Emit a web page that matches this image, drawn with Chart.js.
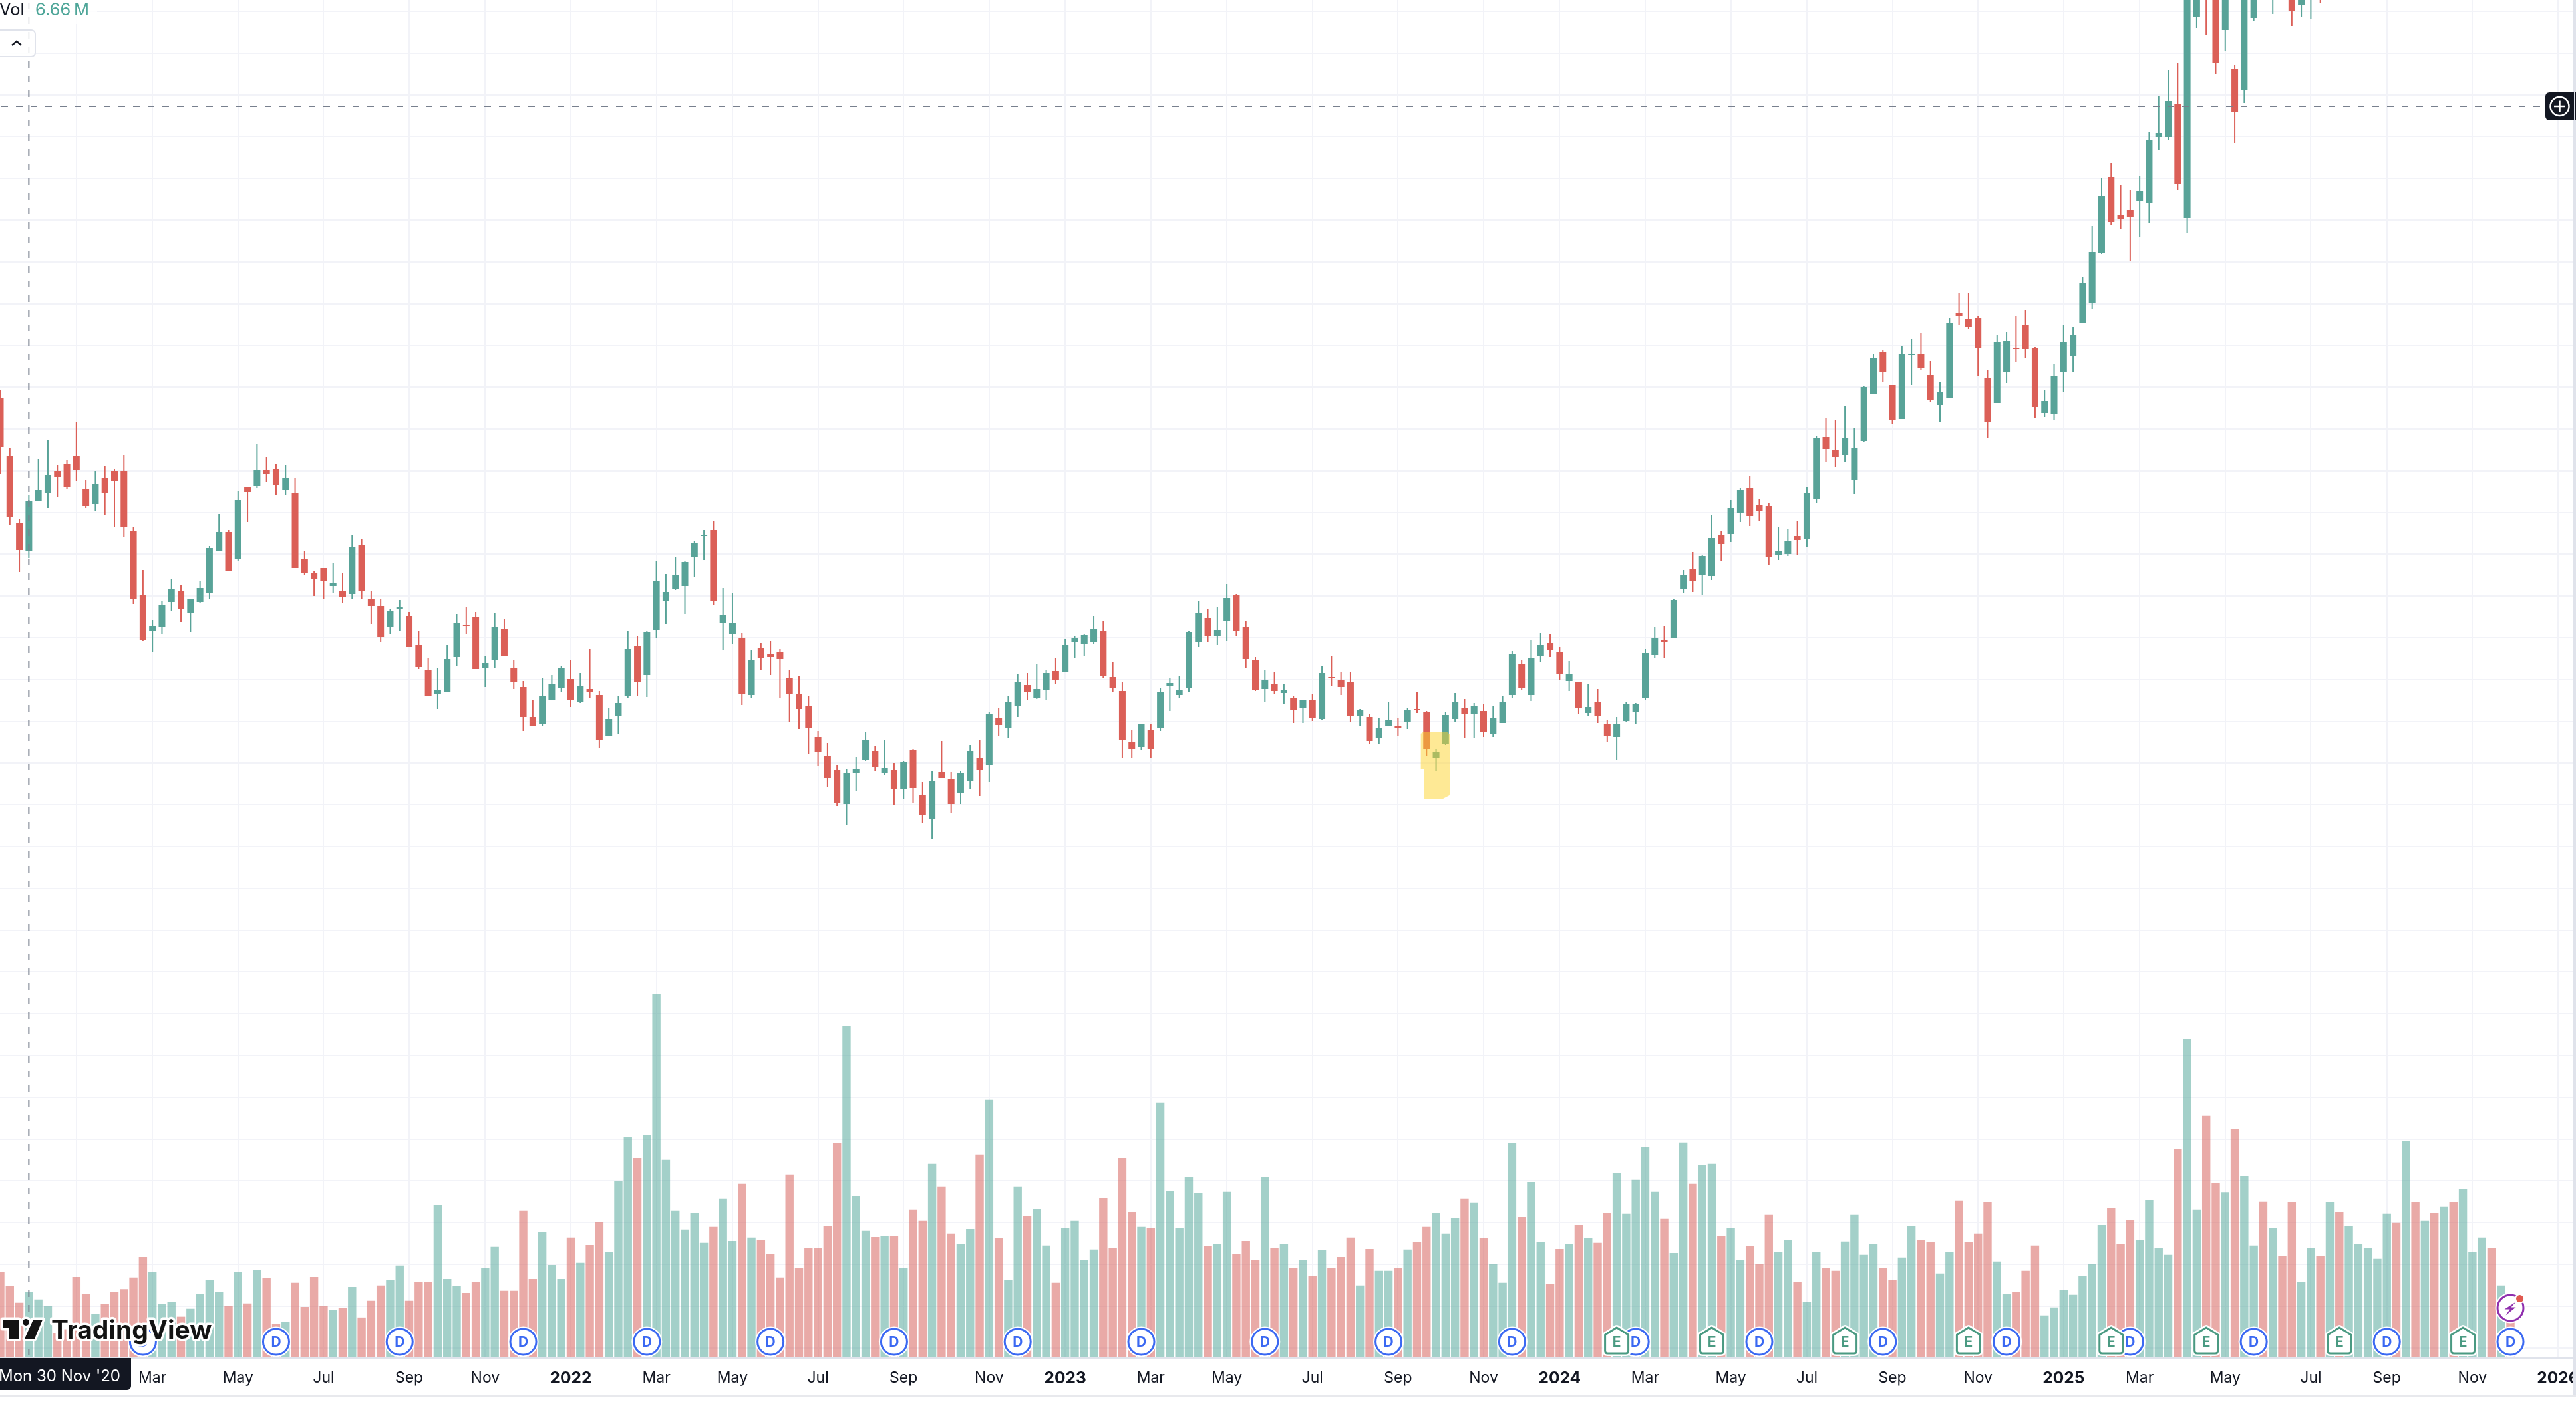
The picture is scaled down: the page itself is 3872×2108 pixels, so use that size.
<!DOCTYPE html>
<html>
<head>
<meta charset="utf-8">
<title>Weekly candles and volume</title>
<script src="https://cdn.jsdelivr.net/npm/chart.js@4/dist/chart.umd.js"></script>
<style>
  html, body { margin: 0; padding: 0; background: #ffffff; }
  canvas { display: block; }
</style>
</head>
<body>
<canvas id="chart" width="3872" height="2108"></canvas>
<script>
// Weekly bars, one per Monday starting 9 Nov 2020.
const opens = [
  151.0,142.2,132.2,127.9,135.4,136.7,140.0,141.1,142.3,137.3,
  135.0,139.0,140.0,140.0,131.0,121.3,116.0,116.6,120.3,121.9,
  118.6,120.3,121.7,127.9,130.8,126.8,137.6,137.8,140.2,140.3,
  137.1,136.6,126.8,124.7,125.4,122.7,122.0,121.5,128.8,120.8,
  119.7,116.6,119.3,118.2,113.8,110.1,106.4,106.8,112.0,116.9,
  118.0,110.3,111.6,116.3,110.4,107.5,103.0,101.9,105.6,107.3,
  108.7,105.2,107.2,106.3,100.1,103.2,106.1,113.6,109.3,116.1,
  120.5,122.2,122.7,127.0,130.2,131.1,117.1,115.4,114.8,106.3,
  113.3,112.4,112.7,108.8,106.4,104.7,100.0,97.1,95.0,89.9,
  94.5,96.6,97.9,94.5,95.0,92.2,98.1,91.2,87.7,94.7,
  93.6,91.6,93.4,96.8,95.8,102.9,101.4,104.7,107.8,105.9,
  107.0,109.9,109.8,114.2,114.0,114.3,115.9,109.0,106.9,99.3,
  98.5,101.1,101.4,107.7,106.3,107.3,114.3,117.9,115.2,117.4,
  121.3,116.6,111.6,107.2,108.0,106.6,105.8,104.4,105.5,102.7,
  109.0,108.6,108.3,103.1,103.0,99.9,101.7,101.7,102.2,104.2,
  103.7,96.9,99.0,102.7,104.4,103.5,103.9,100.4,102.1,106.3,
  111.0,106.3,112.1,114.1,112.7,108.4,108.2,103.6,105.2,102.0,
  100.0,102.4,103.8,105.8,112.3,114.5,114.9,122.3,125.2,124.3,
  124.2,130.3,130.5,133.7,137.4,134.9,134.7,127.4,127.5,130.2,
  129.8,135.7,145.1,143.1,142.4,138.6,144.5,151.5,157.8,152.9,
  147.8,157.4,157.6,154.4,149.9,151.0,163.8,162.8,163.0,154.0,
  150.2,154.9,158.5,162.0,158.5,148.7,148.6,154.9,157.2,162.3,
  165.2,172.7,184.2,178.5,179.3,180.6,180.3,190.2,190.2,195.2,
  178.0,208.3,218,214,206.3,200.5,197.3,208.1,216,212,
  217,215,210.1,213,219,214,223,217,223,226,
  228,230,237,232,244,237,241,235,241,234,
  241,244,248,243,246
];
const highs = [
  152.2,143.4,132.7,136.4,141.8,144.6,140.9,141.6,147.3,138.6,
  140.0,140.8,140.3,142.4,131.5,125.1,117.6,120.4,123.7,122.8,
  120.8,123.4,128.7,133.5,131.1,136.9,137.6,144.0,142.1,141.0,
  140.9,138.9,127.9,124.9,125.4,126.2,124.6,130.4,129.7,121.9,
  120.8,119.2,120.6,118.8,115.9,111.8,110.3,113.8,118.5,119.6,
  118.8,112.2,118.6,117.8,111.5,108.4,105.6,108.9,109.3,110.6,
  111.5,109.6,113.2,106.9,104.4,106.1,116.0,115.1,116.0,126.5,
  124.5,127.0,126.5,129.4,131.1,132.4,122.4,121.6,115.6,113.1,
  114.1,114.4,113.2,110.1,109.1,106.1,100.9,99.1,95.8,95.2,
  97.0,100.7,98.6,99.6,96.1,96.4,98.2,93.2,94.9,99.4,
  94.7,94.8,98.8,99.6,103.7,104.3,106.1,109.5,109.6,110.9,
  110.1,111.9,114.7,115.1,115.4,118.2,117.4,111.2,108.2,101.0,
  102.0,101.9,107.4,108.8,109.1,115.9,120.5,119.3,119.5,123.0,
  121.5,117.5,112.0,110.1,109.7,107.9,106.1,105.5,106.5,110.7,
  112.2,109.7,109.7,104.2,103.4,102.9,105.3,102.8,104.3,106.8,
  103.9,98.2,103.8,106.6,105.7,105.1,104.9,104.7,106.1,112.9,
  111.6,114.6,115.6,115.4,113.5,111.4,108.2,108.0,107.2,102.6,
  103.0,105.2,105.1,113.2,116.6,116.7,120.8,125.1,127.8,127.4,
  133.4,130.9,135.6,137.5,139.3,135.8,135.1,131.5,131.3,132.5,
  137.6,145.2,148.0,147.7,149.7,146.5,152.8,157.6,158.1,152.9,
  158.8,159.9,160.7,156.5,153.3,163.0,166.7,166.7,163.3,155.1,
  160.4,160.9,163.3,164.2,158.7,152.1,156.0,162.0,161.7,169.1,
  176.8,184.1,186.3,183.0,182.2,184.4,191.0,196.4,200.3,201.3,
  216,219,221,217,216,201.1,214,215,218,219,
  218.5,217,216,220,220,224,226,225,228,231,
  233,238,240,246,247,243,245,242,244,243,
  246,250,251,248,248
];
const lows = [
  139.6,131.9,124.8,126.9,135.4,134.4,136.1,137.3,138.5,134.4,
  134.0,133.3,131.6,130.0,120.0,114.4,112.8,115.4,119.0,117.3,
  115.8,120.1,120.8,127.9,124.9,126.5,132.3,137.4,138.3,136.4,
  136.4,125.4,124.4,121.2,120.7,121.7,120.2,120.7,120.7,117.0,
  114.2,115.4,116.0,113.5,110.2,106.2,104.2,106.8,110.6,115.4,
  110.2,107.5,110.3,112.2,107.2,100.9,101.7,101.6,105.5,106.7,
  104.5,105.1,105.9,98.3,100.1,100.5,105.9,106.2,106.0,114.9,
  117.0,122.1,118.5,124.0,126.6,119.8,113.0,114.0,104.8,105.9,
  110.1,109.3,105.9,102.2,101.2,97.4,95.7,92.5,89.6,86.7,
  91.9,96.4,94.9,94.3,89.8,90.6,90.1,87.0,84.6,93.8,
  88.6,89.9,92.2,91.1,93.2,100.1,99.8,103.0,105.6,105.7,
  105.5,107.9,109.8,111.9,112.1,114.0,108.8,106.8,96.9,96.8,
  98.0,96.8,100.9,103.9,105.9,106.7,113.5,114.3,113.8,114.4,
  115.2,110.3,106.9,105.2,106.5,104.9,102.1,102.1,102.4,102.6,
  107.7,106.3,102.3,101.7,98.9,98.9,101.6,100.2,101.2,103.6,
  97.2,94.8,98.8,102.2,99.9,99.8,100.0,100.0,102.1,105.8,
  107.0,105.4,111.3,112.0,108.6,106.9,103.4,103.1,102.1,99.2,
  96.6,102.3,101.9,105.6,111.8,111.8,114.9,121.6,121.8,121.4,
  123.6,126.4,129.3,132.3,131.7,132.5,125.9,126.6,127.2,127.4,
  128.5,135.1,141.3,140.6,141.4,136.5,144.3,151.5,153.3,147.0,
  147.8,152.9,155.2,150.4,147.4,151.0,162.0,161.3,154.2,145.0,
  150.2,153.2,156.4,156.9,147.9,148.1,147.7,151.8,154.9,162.3,
  164.3,172.6,177.0,176.3,171.6,175.2,177.3,188.2,189.8,182.3,
  175.8,206.6,205.5,199.7,203.2,189.3,195.3,207.6,211.5,208.7,
  211.5,206.9,208.2,207.9,210.4,211.5,215,214,220,223,
  225,227,230,230,235,234,233,232,232,231,
  238,241,241,241,241
];
const closes = [
  143.6,133.1,128.1,135.4,137.1,139.4,139.1,137.6,140.1,134.7,
  138.0,136.6,138.5,131.6,120.8,114.6,116.7,119.8,122.2,119.3,
  120.7,122.4,128.4,130.8,124.9,135.6,136.8,140.2,139.5,137.9,
  138.9,125.4,124.7,123.7,123.4,123.2,121.0,128.5,121.9,119.7,
  115.0,118.9,119.5,113.5,110.5,106.2,107.0,111.7,117.2,116.7,
  110.2,111.1,116.6,112.2,108.3,103.0,101.7,106.1,108.0,110.4,
  105.6,107.7,106.8,99.5,102.7,105.1,113.2,108.2,115.7,123.4,
  121.8,124.4,126.3,129.2,130.4,120.5,118.4,117.1,106.4,111.5,
  111.8,112.0,111.7,106.5,104.2,101.3,97.8,93.8,90.1,94.5,
  95.2,99.6,95.5,95.4,92.1,96.2,92.3,88.2,93.3,93.8,
  89.9,94.6,97.9,95.0,103.4,101.8,105.3,108.3,106.8,107.2,
  109.6,108.5,113.8,114.8,115.3,116.3,109.2,107.3,99.5,98.2,
  101.9,98.2,106.8,108.1,107.0,115.8,118.6,115.2,116.1,120.9,
  116.0,111.7,107.0,108.5,106.9,107.1,104.0,105.5,102.9,109.6,
  108.8,107.5,103.1,104.0,99.4,101.3,102.5,101.3,104.0,104.0,
  98.2,97.8,103.3,105.2,103.5,104.6,100.8,102.9,105.2,112.4,
  107.3,111.8,113.8,113.0,109.5,109.5,104.3,104.5,103.2,100.1,
  102.0,104.9,104.9,112.6,114.8,114.3,120.6,124.3,123.4,127.2,
  129.9,129.0,134.4,137.1,133.2,134.0,127.1,127.9,129.4,129.6,
  136.6,144.9,143.3,142.1,144.9,143.4,152.6,157.0,154.8,147.6,
  157.6,157.6,155.4,150.6,151.8,162.3,163.3,161.6,158.5,147.4,
  159.4,159.5,158.3,158.3,149.6,150.5,154.3,159.4,160.5,168.2,
  172.9,181.4,177.4,177.8,178.1,182.1,189.7,190.8,195.6,183.1,
  214,217,211.5,201.4,213,194.0,212,214,213,217,
  213.5,209.2,214,218,214,222,217,223,226,229,
  231,236,232,243,237,241,235,240,234,241,
  244,248,243,246,244
];
// Weekly volume in millions of shares.
const volumes = [
  8.67,7.24,5.56,6.66,5.91,5.28,2.47,2.87,8.18,6.50,
  4.47,5.42,6.69,6.96,8.13,10.22,8.73,5.42,5.64,4.15,
  4.96,6.42,7.91,6.69,5.28,8.67,5.50,8.86,8.05,3.39,
  3.60,7.59,5.15,8.18,5.23,4.88,5.01,7.18,4.07,5.77,
  7.32,7.86,9.35,5.77,7.72,7.72,15.50,7.99,7.24,6.56,
  7.64,9.13,11.25,6.78,6.78,14.91,7.99,12.79,9.40,7.99,
  12.20,9.62,11.44,13.74,10.76,17.99,22.41,20.30,22.60,37.02,
  20.11,14.91,13.01,14.69,11.65,13.28,16.12,11.84,17.67,12.20,
  11.92,10.49,8.13,18.62,9.08,11.11,11.11,13.33,21.79,33.71,
  16.45,12.87,12.25,12.33,12.38,9.13,15.04,13.88,19.70,17.40,
  12.60,11.52,13.06,20.65,26.21,12.11,7.86,17.40,14.36,15.09,
  11.38,7.59,13.14,13.88,9.95,10.98,16.18,11.17,20.30,14.82,
  13.28,13.20,25.93,16.99,13.20,18.35,16.72,11.30,11.57,16.86,
  10.49,11.84,9.95,18.35,11.11,11.52,9.13,9.89,8.32,10.89,
  9.13,10.22,12.20,7.32,11.03,8.81,8.81,9.13,10.98,11.71,
  13.28,14.69,12.60,14.15,16.12,15.72,12.11,9.49,7.59,21.79,
  14.28,17.86,11.71,7.45,11.03,11.57,13.47,12.11,11.65,14.69,
  18.75,14.63,18.08,21.38,16.86,14.09,10.62,21.87,17.67,19.62,
  19.70,12.33,13.14,9.95,11.30,9.49,14.50,10.70,11.98,7.64,
  5.64,10.70,9.13,8.81,11.79,14.50,10.43,11.52,9.08,7.86,
  10.16,13.33,11.92,11.71,8.54,10.70,15.91,11.71,12.60,15.77,
  9.76,6.50,6.69,8.81,11.38,4.28,5.09,6.83,6.37,8.32,
  9.49,13.47,15.23,11.57,13.96,11.92,16.04,11.11,10.43,21.19,
  32.41,15.04,24.58,17.72,16.77,23.28,18.48,11.38,15.85,13.20,
  10.35,15.77,7.72,11.17,10.35,15.77,14.77,13.33,11.57,11.11,
  10.03,14.63,13.69,22.06,15.77,13.88,14.69,15.31,15.77,17.18,
  10.70,12.20,11.11,7.32,5.18
];

// Axis ticks: bar index of the first week of each labelled month.
const tickIndex = [8,16,25,34,43,51,60,69,77,86,95,104,112,121,129,138,147,156,164,173,182,190,199,208,217,225,234,243,251,260,269];
const tickLabels = ['2021','Mar','May','Jul','Sep','Nov','2022','Mar','May','Jul','Sep','Nov','2023','Mar','May','Jul','Sep','Nov','2024','Mar','May','Jul','Sep','Nov','2025','Mar','May','Jul','Sep','Nov','2026'];
const gridLevels = [209.1,202.82,196.54,190.26,183.98,177.7,171.42,165.14,158.86,152.58,146.3,140.02,133.74,127.46,121.18,114.9,108.62,102.34,96.06,89.78,83.5,77.22,70.94,64.66,58.38,52.1,45.82,39.54,33.26,26.98,20.7,14.42,8.14];

// Corporate-event flags by bar index.
const dividendBars = [15,29,42,55,68,81,94,107,120,133,146,159,172,185,198,211,224,237,251,264];
const earningsBars = [170,180,194,207,222,232,246,259];
const newsBar = 264;

// Cursor position and the hand-drawn highlighter stroke, in index/price.
const cursorBar = 3;
const cursorPrice = 194.8;
const cursorDate = "Mon 30 Nov '20";
const volumeLabel = '6.66\u202fM';
const highlightPath = [[149.4,100.5],[149.6,100.7],[152.2,100.7],[152.5,100.3],[152.5,91.8],[152.4,91.2],[151.6,90.6],[149.74,90.6],[149.74,95.2],[149.4,95.2]];

const UP = '#58a398', DOWN = '#db5f57';
const UP_VOL = 'rgba(71,161,147,0.5)', DOWN_VOL = 'rgba(211,85,79,0.5)';
const INK = '#131722';
const FONT = 'Inter, "Liberation Sans", sans-serif';
const BLUE = '#3b69f2', GREEN = '#4a9a82', PURPLE = '#8f2fae';

const bars = opens.map((_, i) => i);
const isUp = i => closes[i] >= opens[i];

function drawDividend(ctx, x, y) {
  ctx.beginPath(); ctx.arc(x, y, 23, 0, Math.PI * 2); ctx.fillStyle = '#fff'; ctx.fill();
  ctx.beginPath(); ctx.arc(x, y, 19.5, 0, Math.PI * 2);
  ctx.strokeStyle = BLUE; ctx.lineWidth = 3; ctx.stroke();
  ctx.fillStyle = BLUE; ctx.font = '700 21px ' + FONT;
  ctx.textAlign = 'center'; ctx.textBaseline = 'middle';
  ctx.fillText('D', x, y + 1);
}

function housePath(ctx, x, top) {
  const hw = 17.5, r = 4, shoulder = top + 11, bottom = top + 39;
  ctx.beginPath();
  ctx.moveTo(x, top);
  ctx.lineTo(x + hw, shoulder);
  ctx.lineTo(x + hw, bottom - r);
  ctx.quadraticCurveTo(x + hw, bottom, x + hw - r, bottom);
  ctx.lineTo(x - hw + r, bottom);
  ctx.quadraticCurveTo(x - hw, bottom, x - hw, bottom - r);
  ctx.lineTo(x - hw, shoulder);
  ctx.closePath();
}

function drawEarnings(ctx, x, top) {
  ctx.lineJoin = 'round';
  housePath(ctx, x, top);
  ctx.strokeStyle = '#fff'; ctx.lineWidth = 8; ctx.stroke();
  ctx.fillStyle = '#fff'; ctx.fill();
  housePath(ctx, x, top);
  ctx.strokeStyle = GREEN; ctx.lineWidth = 3; ctx.stroke();
  ctx.fillStyle = GREEN; ctx.font = '700 21px ' + FONT;
  ctx.textAlign = 'center'; ctx.textBaseline = 'middle';
  ctx.fillText('E', x, top + 23);
}

function drawNews(ctx, x, y) {
  ctx.beginPath(); ctx.arc(x, y, 23, 0, Math.PI * 2); ctx.fillStyle = '#fff'; ctx.fill();
  ctx.beginPath(); ctx.arc(x, y, 19.5, 0, Math.PI * 2);
  ctx.strokeStyle = PURPLE; ctx.lineWidth = 3; ctx.stroke();
  ctx.beginPath();
  ctx.moveTo(x + 8, y - 9); ctx.lineTo(x - 9, y + 2); ctx.lineTo(x - 1, y + 2);
  ctx.lineTo(x - 7, y + 11); ctx.lineTo(x + 8, y - 1); ctx.lineTo(x + 1, y - 1);
  ctx.closePath(); ctx.fillStyle = PURPLE; ctx.fill();
  ctx.beginPath(); ctx.arc(x + 14, y - 14, 7.5, 0, Math.PI * 2); ctx.fillStyle = '#fff'; ctx.fill();
  ctx.beginPath(); ctx.arc(x + 14, y - 14, 5.5, 0, Math.PI * 2); ctx.fillStyle = '#e0594f'; ctx.fill();
}

function drawLogo(ctx) {
  ctx.save();
  ctx.lineJoin = 'round';
  const shapes = new Path2D();
  shapes.moveTo(4, 1984); shapes.lineTo(28, 1984); shapes.lineTo(28, 2013); shapes.lineTo(13, 2013); shapes.lineTo(13, 1997); shapes.lineTo(4, 1997); shapes.closePath();
  shapes.moveTo(44, 1988); shapes.arc(39, 1988, 5, 0, Math.PI * 2); shapes.closePath();
  shapes.moveTo(50, 1984); shapes.lineTo(64, 1984); shapes.lineTo(52, 2013); shapes.lineTo(37, 2013); shapes.closePath();
  ctx.strokeStyle = '#fff'; ctx.lineWidth = 7; ctx.stroke(shapes);
  ctx.font = '700 39px ' + FONT; ctx.textAlign = 'left'; ctx.textBaseline = 'alphabetic';
  ctx.strokeText('TradingView', 77, 2013);
  ctx.fillStyle = '#131313'; ctx.fill(shapes);
  ctx.fillText('TradingView', 77, 2013);
  ctx.restore();
}

// Everything layered above the bars: highlighter, flags, cursor and chrome.
const overlays = {
  id: 'overlays',
  afterDatasetsDraw(chart) {
    const { ctx } = chart, x = chart.scales.x, y = chart.scales.y;
    ctx.save();
    // highlighter stroke
    ctx.beginPath();
    highlightPath.forEach(([a, b], n) => {
      const px = x.getPixelForValue(a), py = y.getPixelForValue(b);
      n ? ctx.lineTo(px, py) : ctx.moveTo(px, py);
    });
    ctx.closePath(); ctx.fillStyle = 'rgba(253,211,43,0.5)'; ctx.fill();
    // flags along the foot of the volume pane
    dividendBars.forEach(i => drawDividend(ctx, x.getPixelForValue(i), 2017.5));
    earningsBars.forEach(i => drawEarnings(ctx, x.getPixelForValue(i), 1996));
    drawNews(ctx, x.getPixelForValue(newsBar), 1966.5);
    ctx.restore();
  },
  afterDraw(chart) {
    const { ctx } = chart, x = chart.scales.x, y = chart.scales.y;
    const cx = x.getPixelForValue(cursorBar), cy = Math.round(y.getPixelForValue(cursorPrice));
    ctx.save();
    // cursor crosshair
    ctx.strokeStyle = '#78808e'; ctx.lineWidth = 2; ctx.setLineDash([10, 12]);
    ctx.beginPath(); ctx.moveTo(cx, 4); ctx.lineTo(cx, 2041); ctx.stroke();
    ctx.beginPath(); ctx.moveTo(2, cy); ctx.lineTo(3826, cy); ctx.stroke();
    ctx.setLineDash([]);
    drawLogo(ctx);
    // right-hand pane edge and the foot rule
    ctx.fillStyle = '#e0e3eb'; ctx.fillRect(3868, 0, 4, 2100);
    ctx.fillStyle = '#e8e9ed'; ctx.fillRect(0, 2098, 3872, 2);
    // legend line
    ctx.fillStyle = 'rgba(255,255,255,0.8)'; ctx.fillRect(0, 0, 146, 36);
    ctx.font = '400 25.5px ' + FONT; ctx.textBaseline = 'middle'; ctx.textAlign = 'left';
    ctx.fillStyle = INK; ctx.fillText('Vol', -1, 15);
    ctx.fillStyle = '#4fa699'; ctx.fillText(volumeLabel, 53, 15);
    // collapse button
    ctx.beginPath(); ctx.roundRect(-6, 45, 59, 40, 6);
    ctx.fillStyle = 'rgba(255,255,255,0.85)'; ctx.fill();
    ctx.strokeStyle = '#e0e3eb'; ctx.lineWidth = 2; ctx.stroke();
    ctx.beginPath(); ctx.moveTo(18, 68); ctx.lineTo(25, 62); ctx.lineTo(32, 68);
    ctx.strokeStyle = INK; ctx.lineWidth = 2.5; ctx.stroke();
    // price cursor tag
    ctx.fillStyle = INK;
    ctx.beginPath(); ctx.roundRect(3826, 139, 43, 42, [6, 0, 0, 6]); ctx.fill();
    ctx.fillRect(3870, 139, 2, 42);
    ctx.strokeStyle = '#fff'; ctx.lineWidth = 2.5;
    ctx.beginPath(); ctx.arc(3847.5, cy, 14, 0, Math.PI * 2); ctx.stroke();
    ctx.beginPath(); ctx.moveTo(3839, cy); ctx.lineTo(3856, cy); ctx.moveTo(3847.5, cy - 8.5); ctx.lineTo(3847.5, cy + 8.5); ctx.stroke();
    // date cursor tag
    ctx.fillStyle = INK;
    ctx.beginPath(); ctx.roundRect(-8, 2042, 205, 48, [0, 0, 6, 0]); ctx.fill();
    ctx.fillStyle = '#fff'; ctx.font = '400 24px ' + FONT; ctx.textBaseline = 'middle';
    ctx.fillText(cursorDate, -2, 2070);
    ctx.restore();
  }
};

new Chart(document.getElementById('chart'), {
  type: 'bar',
  data: {
    datasets: [
      {
        label: 'Volume', yAxisID: 'yVol', grouped: false, order: 3,
        data: bars.map(i => ({ x: i, y: volumes[i] })),
        backgroundColor: bars.map(i => isUp(i) ? UP_VOL : DOWN_VOL),
        barThickness: 12.4, inflateAmount: 0
      },
      {
        label: 'Wick', yAxisID: 'y', grouped: false, order: 2,
        data: bars.map(i => ({ x: i, y: [lows[i], highs[i]] })),
        backgroundColor: bars.map(i => isUp(i) ? UP : DOWN),
        barThickness: 2, inflateAmount: 0
      },
      {
        label: 'Body', yAxisID: 'y', grouped: false, order: 1,
        data: bars.map(i => ({ x: i, y: [opens[i], closes[i]] })),
        backgroundColor: bars.map(i => isUp(i) ? UP : DOWN),
        barThickness: 10, inflateAmount: 0
      }
    ]
  },
  options: {
    responsive: false,
    animation: false,
    events: [],
    layout: { padding: 0 },
    plugins: { legend: { display: false }, tooltip: { enabled: false } },
    scales: {
      x: {
        type: 'linear',
        offset: false,
        min: -0.035,
        max: 270.89,
        afterBuildTicks: s => { s.ticks = tickIndex.map(value => ({ value })); },
        afterFit: s => { s.height = 67; s.paddingLeft = 0; s.paddingRight = 0; },
        grid: { color: '#f2f3f8', lineWidth: 2, drawTicks: false, offset: false },
        border: { display: true, color: '#e0e3eb', width: 3 },
        ticks: {
          autoSkip: false, maxRotation: 0, minRotation: 0, padding: 17, color: INK,
          callback: v => tickLabels[tickIndex.indexOf(v)],
          font: c => {
            const year = c.tick && /^\d+$/.test(c.tick.label);
            return { family: FONT, size: year ? 24.5 : 23, weight: year ? '700' : '400' };
          }
        }
      },
      y: {
        type: 'linear', position: 'left',
        min: 6.7, max: 210.8,
        afterBuildTicks: s => { s.ticks = gridLevels.map(value => ({ value })); },
        afterFit: s => { s.width = 0; },
        grid: { color: '#f2f3f8', lineWidth: 2, drawTicks: false },
        border: { display: false },
        ticks: { display: false }
      },
      yVol: {
        type: 'linear', position: 'right', display: false,
        min: 0, max: 138.1
      }
    }
  },
  plugins: [overlays]
});
</script>
</body>
</html>
